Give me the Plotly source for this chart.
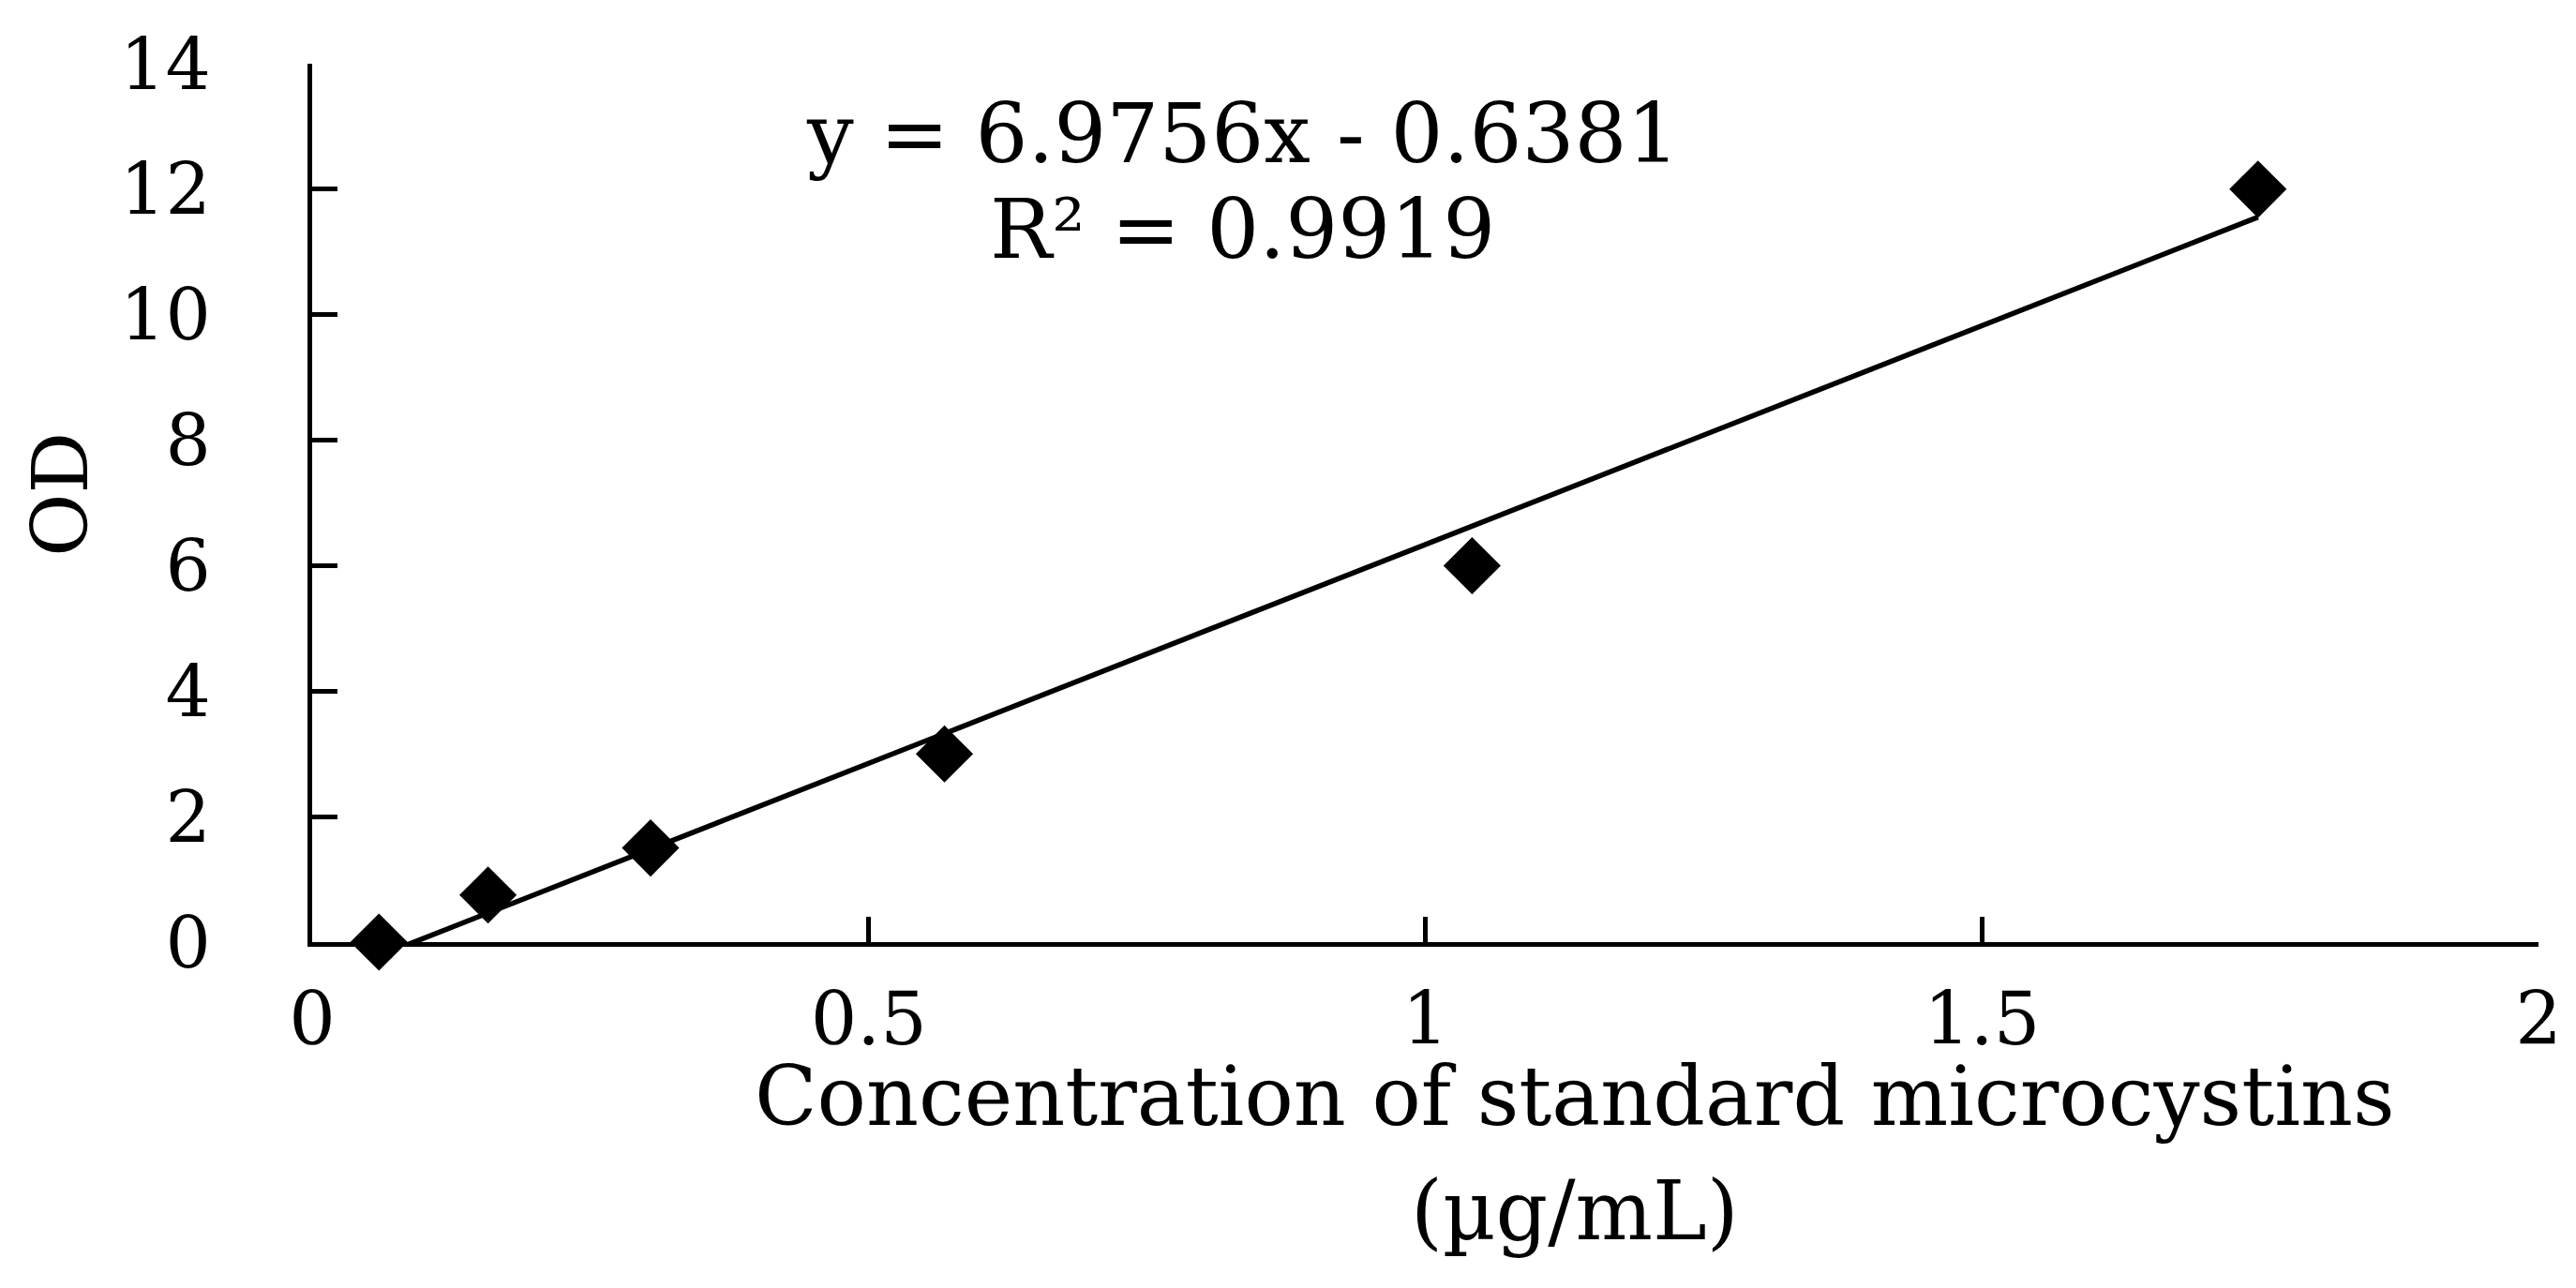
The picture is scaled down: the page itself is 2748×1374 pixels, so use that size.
import plotly.graph_objects as go

# standard curve points
concentration = [0.06, 0.158, 0.304, 0.568, 1.042, 1.748]
od_values = [0.0, 0.75, 1.5, 3.0, 6.0, 12.0]

# linear trendline as printed on the chart
slope = 6.9756
intercept = -0.6381
r_squared = 0.9919

x_ticks = [0, 0.5, 1, 1.5, 2]
x_tick_labels = ["0", "0.5", "1", "1.5", "2"]
y_ticks = [0, 2, 4, 6, 8, 10, 12, 14]

x_title_lines = ["Concentration of standard microcystins", "(µg/mL)"]

trend_x = [min(concentration), max(concentration)]
trend_y = [slope * x + intercept for x in trend_x]

FONT = "DejaVu Serif"

fig = go.Figure()

fig.add_trace(
    go.Scatter(
        x=trend_x,
        y=trend_y,
        mode="lines",
        line=dict(color="black", width=5.5),
        showlegend=False,
        hoverinfo="skip",
    )
)

fig.add_trace(
    go.Scatter(
        x=concentration,
        y=od_values,
        mode="markers",
        marker=dict(symbol="diamond", size=47, color="black", line=dict(width=0)),
        cliponaxis=False,
        showlegend=False,
    )
)

fig.update_layout(
    width=2748,
    height=1374,
    margin=dict(l=325, r=48, t=60, b=377),
    plot_bgcolor="white",
    paper_bgcolor="white",
    showlegend=False,
)

fig.update_xaxes(
    range=[0, 2],
    tickvals=x_ticks,
    ticktext=x_tick_labels,
    showgrid=False,
    zeroline=False,
    showline=True,
    linecolor="black",
    linewidth=5,
    ticks="inside",
    ticklen=27,
    tickwidth=5,
    tickcolor="black",
    ticklabelstandoff=10,
    tickfont=dict(family=FONT, size=78, color="black"),
)

fig.update_yaxes(
    range=[0, 14],
    tickvals=y_ticks,
    showgrid=False,
    zeroline=False,
    showline=True,
    linecolor="black",
    linewidth=5,
    ticks="inside",
    ticklen=27,
    tickwidth=5,
    tickcolor="black",
    ticklabelstandoff=88,
    tickfont=dict(family=FONT, size=76, color="black"),
)

# y axis title
fig.add_annotation(
    text="OD",
    xref="paper",
    yref="paper",
    x=-0.113,
    y=0.51,
    xanchor="center",
    yanchor="middle",
    textangle=-90,
    showarrow=False,
    font=dict(family=FONT, size=82, color="black"),
)

# x axis title, two lines, shifted right as in the original
for line_text, y_pos in zip(x_title_lines, [-0.119, -0.250]):
    fig.add_annotation(
        text=line_text,
        xref="paper",
        yref="paper",
        x=0.567,
        y=y_pos,
        xanchor="center",
        yanchor="top",
        showarrow=False,
        font=dict(family=FONT, size=87, color="black"),
    )

# trendline equation
fig.add_annotation(
    text=f"y = {slope}x - {abs(intercept)}",
    xref="paper",
    yref="paper",
    x=0.418,
    y=0.92,
    xanchor="center",
    yanchor="middle",
    showarrow=False,
    font=dict(family=FONT, size=88, color="black"),
)
fig.add_annotation(
    text=f"R² = {r_squared}",
    xref="paper",
    yref="paper",
    x=0.418,
    y=0.812,
    xanchor="center",
    yanchor="middle",
    showarrow=False,
    font=dict(family=FONT, size=88, color="black"),
)

fig.write_html("out.html", config={"displayModeBar": False})
